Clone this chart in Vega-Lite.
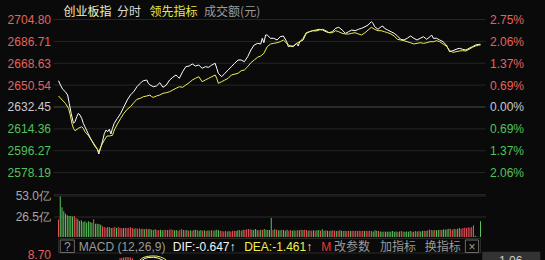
{
"$schema": "https://vega.github.io/schema/vega-lite/v6.json",
"width": 432,
"height": 240.5,
"autosize": {"type": "none"},
"padding": {"left": 53.5, "top": 19.5, "right": 59.5, "bottom": 0},
"background": "#0a0a0a",
"config": {"view": {"stroke": null}, "axis": {"domain": false, "ticks": false, "grid": false, "labelFont": "Liberation Sans", "labelFontSize": 12, "labelOverlap": false, "labelBound": false, "labelFlush": false}},
"datasets": {
"grid": [{"pct": 2.7484}, {"pct": 2.0612}, {"pct": 1.3744}, {"pct": 0.6872}, {"pct": 0}, {"pct": -0.6872}, {"pct": -1.3744}, {"pct": -2.0612}, {"pct": -2.7484}],
"idx": [{"t":0,"p":2654.19},{"t":1.1,"p":2650.63},{"t":2.4,"p":2647.08},{"t":3.9,"p":2645.09},{"t":5.2,"p":2642.36},{"t":6.1,"p":2635.5},{"t":7.2,"p":2627.23},{"t":8.5,"p":2618.96},{"t":9.4,"p":2620.29},{"t":10.4,"p":2624.42},{"t":11.3,"p":2627.23},{"t":12.2,"p":2625.83},{"t":13.2,"p":2623.1},{"t":14.1,"p":2618.96},{"t":15,"p":2616.15},{"t":15.9,"p":2613.42},{"t":16.8,"p":2610.69},{"t":18.7,"p":2605.15},{"t":20.6,"p":2600.19},{"t":22.1,"p":2597.46},{"t":22.9,"p":2593.57},{"t":23.9,"p":2598.28},{"t":25.2,"p":2605.15},{"t":26.1,"p":2610.69},{"t":27.1,"p":2613.42},{"t":27.9,"p":2612.02},{"t":28.9,"p":2614.0},{"t":29.8,"p":2610.12},{"t":30.7,"p":2614.83},{"t":31.7,"p":2618.96},{"t":33.5,"p":2623.1},{"t":35.4,"p":2627.23},{"t":37.2,"p":2632.69},{"t":39.1,"p":2638.23},{"t":40.9,"p":2642.36},{"t":41.8,"p":2643.77},{"t":42.8,"p":2645.09},{"t":44.6,"p":2649.23},{"t":46.5,"p":2652.04},{"t":47.4,"p":2653.37},{"t":48.3,"p":2654.19},{"t":50.2,"p":2654.77},{"t":51.1,"p":2652.04},{"t":52.1,"p":2650.63},{"t":53.9,"p":2649.23},{"t":55.7,"p":2649.81},{"t":57.6,"p":2652.53},{"t":58.5,"p":2650.63},{"t":59.4,"p":2648.73},{"t":61.3,"p":2650.63},{"t":63.2,"p":2654.77},{"t":65,"p":2657.0},{"t":66.8,"p":2658.9},{"t":67.8,"p":2657.5},{"t":68.7,"p":2656.18},{"t":70.6,"p":2661.63},{"t":72.4,"p":2665.77},{"t":74.3,"p":2666.34},{"t":76.1,"p":2668.0},{"t":77.9,"p":2666.34},{"t":79.8,"p":2667.17},{"t":81.7,"p":2664.44},{"t":83.5,"p":2665.77},{"t":85.4,"p":2665.27},{"t":87.2,"p":2667.17},{"t":89.1,"p":2668.58},{"t":90,"p":2664.44},{"t":90.9,"p":2660.31},{"t":92.8,"p":2657.5},{"t":94.6,"p":2660.31},{"t":96.5,"p":2663.04},{"t":98.3,"p":2665.77},{"t":100.2,"p":2668.58},{"t":102.1,"p":2671.31},{"t":103.9,"p":2671.31},{"t":105.7,"p":2669.9},{"t":107.6,"p":2674.03},{"t":109.4,"p":2679.58},{"t":111.3,"p":2683.71},{"t":113.2,"p":2685.11},{"t":115,"p":2684.54},{"t":115.9,"p":2689.25},{"t":116.8,"p":2685.61},{"t":117.8,"p":2691.98},{"t":118.7,"p":2691.98},{"t":120.6,"p":2689.25},{"t":122.4,"p":2689.25},{"t":124.3,"p":2687.84},{"t":126.1,"p":2690.57},{"t":127.9,"p":2691.15},{"t":129.8,"p":2686.44},{"t":130.7,"p":2682.3},{"t":131.7,"p":2682.88},{"t":133.5,"p":2682.3},{"t":135.4,"p":2685.11},{"t":136.3,"p":2682.88},{"t":137.2,"p":2686.44},{"t":139.1,"p":2687.84},{"t":140.9,"p":2693.38},{"t":142.8,"p":2694.71},{"t":144.6,"p":2695.53},{"t":146.5,"p":2696.11},{"t":148.3,"p":2696.69},{"t":150.2,"p":2696.11},{"t":152.1,"p":2694.71},{"t":153.9,"p":2693.88},{"t":155.7,"p":2694.71},{"t":157.6,"p":2697.52},{"t":159.4,"p":2698.35},{"t":161.3,"p":2696.11},{"t":163.2,"p":2693.38},{"t":165,"p":2694.71},{"t":166.8,"p":2696.11},{"t":168.7,"p":2695.53},{"t":170.6,"p":2696.69},{"t":172.4,"p":2697.52},{"t":174.3,"p":2698.84},{"t":176.1,"p":2700.25},{"t":177.9,"p":2702.98},{"t":178.9,"p":2701.65},{"t":179.8,"p":2698.84},{"t":181.7,"p":2696.69},{"t":183.5,"p":2698.84},{"t":184.4,"p":2699.42},{"t":185.4,"p":2697.52},{"t":187.2,"p":2696.11},{"t":189.1,"p":2694.71},{"t":190.9,"p":2693.38},{"t":192.8,"p":2691.15},{"t":194.6,"p":2688.42},{"t":196.5,"p":2687.84},{"t":198.3,"p":2689.25},{"t":200.2,"p":2691.15},{"t":202.1,"p":2689.25},{"t":203.9,"p":2687.84},{"t":205.7,"p":2689.25},{"t":207.6,"p":2690.57},{"t":209.4,"p":2688.42},{"t":211.3,"p":2690.57},{"t":212.2,"p":2691.98},{"t":213.2,"p":2689.25},{"t":215,"p":2689.25},{"t":216.8,"p":2687.84},{"t":218.7,"p":2686.44},{"t":220.6,"p":2683.71},{"t":222.4,"p":2678.17},{"t":224.3,"p":2679.0},{"t":226.1,"p":2680.15},{"t":227.9,"p":2680.98},{"t":229.8,"p":2680.15},{"t":231.7,"p":2679.58},{"t":233.5,"p":2680.98},{"t":235.4,"p":2682.3},{"t":237.2,"p":2683.71},{"t":239.1,"p":2684.29},{"t":240,"p":2684.29}],
"lead": [{"t":0,"p":2641.54},{"t":2.1,"p":2638.23},{"t":3.9,"p":2635.5},{"t":5.7,"p":2631.37},{"t":6.7,"p":2625.83},{"t":7.6,"p":2618.96},{"t":8.5,"p":2614.83},{"t":9.4,"p":2612.85},{"t":11.3,"p":2614.83},{"t":13.2,"p":2616.15},{"t":14.1,"p":2614.83},{"t":15,"p":2612.02},{"t":16.8,"p":2609.29},{"t":18.7,"p":2605.15},{"t":20.6,"p":2601.02},{"t":22.4,"p":2596.89},{"t":22.9,"p":2595.48},{"t":24.3,"p":2600.19},{"t":26.1,"p":2605.15},{"t":27.6,"p":2608.46},{"t":28.9,"p":2608.46},{"t":30.7,"p":2609.04},{"t":31.7,"p":2613.42},{"t":33.5,"p":2618.38},{"t":35.4,"p":2623.1},{"t":37.2,"p":2627.23},{"t":39.1,"p":2630.54},{"t":40.9,"p":2632.69},{"t":42.8,"p":2636.0},{"t":44.6,"p":2638.81},{"t":46.5,"p":2639.64},{"t":48.3,"p":2640.96},{"t":50.2,"p":2641.54},{"t":52.1,"p":2642.36},{"t":52.9,"p":2640.96},{"t":53.9,"p":2640.46},{"t":55.7,"p":2641.54},{"t":57.6,"p":2642.36},{"t":59.4,"p":2643.77},{"t":61.3,"p":2644.27},{"t":63.2,"p":2645.09},{"t":65,"p":2646.5},{"t":66.8,"p":2647.9},{"t":68.7,"p":2649.23},{"t":70.6,"p":2648.73},{"t":72.4,"p":2650.63},{"t":74.3,"p":2652.53},{"t":76.1,"p":2654.77},{"t":77.9,"p":2656.18},{"t":79.8,"p":2657.5},{"t":81.7,"p":2653.36},{"t":83.5,"p":2654.77},{"t":85.4,"p":2656.18},{"t":87.2,"p":2657.5},{"t":89.1,"p":2658.9},{"t":90,"p":2656.18},{"t":90.9,"p":2652.04},{"t":92.8,"p":2653.36},{"t":94.6,"p":2654.77},{"t":96.5,"p":2656.18},{"t":98.3,"p":2658.9},{"t":102.1,"p":2660.31},{"t":103.9,"p":2662.46},{"t":105.7,"p":2663.04},{"t":107.6,"p":2665.77},{"t":109.4,"p":2669.07},{"t":111.3,"p":2671.31},{"t":113.2,"p":2673.54},{"t":115,"p":2674.61},{"t":116.8,"p":2676.85},{"t":118.7,"p":2682.3},{"t":120.6,"p":2684.54},{"t":122.4,"p":2685.11},{"t":124.3,"p":2685.61},{"t":126.1,"p":2686.44},{"t":127.9,"p":2687.84},{"t":129.8,"p":2685.11},{"t":131.7,"p":2682.88},{"t":133.5,"p":2682.88},{"t":135.4,"p":2685.11},{"t":137.2,"p":2686.44},{"t":139.1,"p":2689.25},{"t":140.9,"p":2693.88},{"t":142.8,"p":2694.71},{"t":144.6,"p":2695.53},{"t":146.5,"p":2695.29},{"t":148.3,"p":2696.11},{"t":150.2,"p":2696.69},{"t":152.1,"p":2695.53},{"t":153.9,"p":2693.88},{"t":155.7,"p":2693.88},{"t":157.6,"p":2695.53},{"t":159.4,"p":2694.71},{"t":161.3,"p":2693.38},{"t":163.2,"p":2692.81},{"t":165,"p":2692.81},{"t":166.8,"p":2693.38},{"t":168.7,"p":2693.88},{"t":170.6,"p":2692.81},{"t":172.4,"p":2691.98},{"t":174.3,"p":2693.88},{"t":176.1,"p":2696.11},{"t":177.9,"p":2698.35},{"t":179.8,"p":2696.69},{"t":181.7,"p":2695.53},{"t":183.5,"p":2695.53},{"t":185.4,"p":2694.71},{"t":187.2,"p":2693.88},{"t":189.1,"p":2692.81},{"t":190.9,"p":2691.15},{"t":192.8,"p":2688.42},{"t":194.6,"p":2687.84},{"t":196.5,"p":2687.27},{"t":198.3,"p":2686.44},{"t":200.2,"p":2685.61},{"t":202.1,"p":2684.54},{"t":203.9,"p":2685.11},{"t":205.7,"p":2685.61},{"t":207.6,"p":2685.11},{"t":209.4,"p":2685.61},{"t":211.3,"p":2686.44},{"t":213.2,"p":2686.44},{"t":215,"p":2687.27},{"t":216.8,"p":2686.44},{"t":218.7,"p":2684.54},{"t":220.6,"p":2682.88},{"t":222.4,"p":2679.12},{"t":224.3,"p":2677.67},{"t":226.1,"p":2678.17},{"t":227.9,"p":2678.75},{"t":229.8,"p":2679.0},{"t":231.7,"p":2678.75},{"t":233.5,"p":2680.15},{"t":235.4,"p":2681.81},{"t":237.2,"p":2682.88},{"t":239.1,"p":2683.71},{"t":240,"p":2683.71}],
"vol": [{"t":0,"v":22,"d":"up"},{"t":1,"v":51,"d":"dn"},{"t":2,"v":37.5,"d":"dn"},{"t":3,"v":32.4,"d":"dn"},{"t":4,"v":29.4,"d":"dn"},{"t":5,"v":27.3,"d":"dn"},{"t":6,"v":26.5,"d":"dn"},{"t":7,"v":26.5,"d":"dn"},{"t":8,"v":26,"d":"dn"},{"t":9,"v":26.5,"d":"up"},{"t":10,"v":24,"d":"up"},{"t":11,"v":22.3,"d":"dn"},{"t":12,"v":20.2,"d":"dn"},{"t":13,"v":21,"d":"dn"},{"t":14,"v":19,"d":"dn"},{"t":15,"v":19.8,"d":"dn"},{"t":16,"v":18,"d":"dn"},{"t":17,"v":19.8,"d":"dn"},{"t":18,"v":19,"d":"dn"},{"t":19,"v":18,"d":"dn"},{"t":20,"v":22.3,"d":"up"},{"t":21,"v":16.8,"d":"dn"},{"t":22,"v":16.8,"d":"dn"},{"t":23,"v":16.4,"d":"dn"},{"t":24,"v":15.6,"d":"dn"},{"t":25,"v":13.5,"d":"up"},{"t":26,"v":12.6,"d":"up"},{"t":27,"v":11.8,"d":"up"},{"t":28,"v":12.6,"d":"dn"},{"t":29,"v":12.2,"d":"up"},{"t":30,"v":11.4,"d":"dn"},{"t":31,"v":11.8,"d":"up"},{"t":32,"v":12.6,"d":"up"},{"t":33,"v":11.4,"d":"dn"},{"t":34,"v":12.2,"d":"up"},{"t":35,"v":11.8,"d":"up"},{"t":36,"v":11,"d":"up"},{"t":37,"v":11.4,"d":"dn"},{"t":38,"v":11.8,"d":"up"},{"t":39,"v":11.4,"d":"up"},{"t":40,"v":11.8,"d":"up"},{"t":41,"v":12.2,"d":"up"},{"t":42,"v":11.4,"d":"up"},{"t":43,"v":10.5,"d":"dn"},{"t":44,"v":11.4,"d":"up"},{"t":45,"v":10.5,"d":"up"},{"t":46,"v":11,"d":"up"},{"t":47,"v":10,"d":"dn"},{"t":48,"v":10.5,"d":"up"},{"t":49,"v":9.7,"d":"dn"},{"t":50,"v":10.5,"d":"up"},{"t":51,"v":9.7,"d":"dn"},{"t":52,"v":10,"d":"dn"},{"t":53,"v":9.3,"d":"dn"},{"t":54,"v":8.8,"d":"up"},{"t":55,"v":9.7,"d":"dn"},{"t":56,"v":8.4,"d":"up"},{"t":57,"v":8.8,"d":"up"},{"t":58,"v":9.3,"d":"dn"},{"t":59,"v":8.4,"d":"dn"},{"t":60,"v":8.8,"d":"up"},{"t":61,"v":9.3,"d":"up"},{"t":62,"v":8.8,"d":"up"},{"t":63,"v":9.3,"d":"up"},{"t":64,"v":9.7,"d":"up"},{"t":65,"v":8.8,"d":"up"},{"t":66,"v":8.4,"d":"dn"},{"t":67,"v":8.8,"d":"dn"},{"t":68,"v":8,"d":"up"},{"t":69,"v":9.3,"d":"up"},{"t":70,"v":9.7,"d":"up"},{"t":71,"v":8.8,"d":"dn"},{"t":72,"v":8.4,"d":"up"},{"t":73,"v":8.8,"d":"dn"},{"t":74,"v":8,"d":"up"},{"t":75,"v":8.4,"d":"dn"},{"t":76,"v":8,"d":"up"},{"t":77,"v":8.8,"d":"dn"},{"t":78,"v":9.3,"d":"dn"},{"t":79,"v":8.4,"d":"up"},{"t":80,"v":8,"d":"dn"},{"t":81,"v":8.8,"d":"dn"},{"t":82,"v":8,"d":"up"},{"t":83,"v":8.4,"d":"dn"},{"t":84,"v":7.6,"d":"up"},{"t":85,"v":8.4,"d":"dn"},{"t":86,"v":8,"d":"up"},{"t":87,"v":8.8,"d":"up"},{"t":88,"v":8,"d":"up"},{"t":89,"v":8.4,"d":"dn"},{"t":90,"v":9.3,"d":"dn"},{"t":91,"v":8.4,"d":"dn"},{"t":92,"v":8,"d":"up"},{"t":93,"v":7.6,"d":"up"},{"t":94,"v":7.1,"d":"up"},{"t":95,"v":7.6,"d":"up"},{"t":96,"v":7.1,"d":"up"},{"t":97,"v":7.6,"d":"dn"},{"t":98,"v":7.1,"d":"up"},{"t":99,"v":7.6,"d":"up"},{"t":100,"v":8,"d":"up"},{"t":101,"v":7.6,"d":"dn"},{"t":102,"v":8.4,"d":"dn"},{"t":103,"v":8.8,"d":"up"},{"t":104,"v":8,"d":"up"},{"t":105,"v":9.3,"d":"dn"},{"t":106,"v":8.8,"d":"up"},{"t":107,"v":9.7,"d":"up"},{"t":108,"v":10,"d":"up"},{"t":109,"v":9.7,"d":"up"},{"t":110,"v":9.3,"d":"dn"},{"t":111,"v":8.8,"d":"dn"},{"t":112,"v":10,"d":"dn"},{"t":113,"v":8.8,"d":"dn"},{"t":114,"v":8.4,"d":"up"},{"t":115,"v":9.3,"d":"dn"},{"t":116,"v":8.8,"d":"up"},{"t":117,"v":10,"d":"dn"},{"t":118,"v":9.3,"d":"dn"},{"t":119,"v":8.8,"d":"dn"},{"t":120,"v":8.8,"d":"dn"},{"t":121,"v":24,"d":"dn"},{"t":122,"v":8.8,"d":"up"},{"t":123,"v":9.7,"d":"dn"},{"t":124,"v":9.3,"d":"up"},{"t":125,"v":8.4,"d":"dn"},{"t":126,"v":8.4,"d":"dn"},{"t":127,"v":9.3,"d":"up"},{"t":128,"v":8.8,"d":"dn"},{"t":129,"v":8,"d":"dn"},{"t":130,"v":9.3,"d":"dn"},{"t":131,"v":8,"d":"up"},{"t":132,"v":8.8,"d":"up"},{"t":133,"v":8,"d":"dn"},{"t":134,"v":8.4,"d":"dn"},{"t":135,"v":8,"d":"up"},{"t":136,"v":8.8,"d":"up"},{"t":137,"v":8.4,"d":"dn"},{"t":138,"v":9.3,"d":"up"},{"t":139,"v":8.8,"d":"dn"},{"t":140,"v":9.3,"d":"up"},{"t":141,"v":8.8,"d":"up"},{"t":142,"v":8,"d":"dn"},{"t":143,"v":8.4,"d":"up"},{"t":144,"v":8,"d":"up"},{"t":145,"v":8.4,"d":"dn"},{"t":146,"v":8,"d":"up"},{"t":147,"v":8.4,"d":"dn"},{"t":148,"v":8.8,"d":"dn"},{"t":149,"v":8,"d":"up"},{"t":150,"v":9.7,"d":"dn"},{"t":151,"v":8,"d":"dn"},{"t":152,"v":8.4,"d":"up"},{"t":153,"v":8,"d":"dn"},{"t":154,"v":7.6,"d":"up"},{"t":155,"v":8,"d":"dn"},{"t":156,"v":8.4,"d":"up"},{"t":157,"v":8,"d":"up"},{"t":158,"v":7.6,"d":"dn"},{"t":159,"v":8,"d":"up"},{"t":160,"v":8.4,"d":"dn"},{"t":161,"v":8,"d":"dn"},{"t":162,"v":7.6,"d":"up"},{"t":163,"v":8,"d":"dn"},{"t":164,"v":7.6,"d":"up"},{"t":165,"v":8,"d":"up"},{"t":166,"v":7.6,"d":"dn"},{"t":167,"v":8,"d":"up"},{"t":168,"v":7.6,"d":"up"},{"t":169,"v":8,"d":"up"},{"t":170,"v":7.6,"d":"up"},{"t":171,"v":8,"d":"up"},{"t":172,"v":7.6,"d":"up"},{"t":173,"v":8,"d":"up"},{"t":174,"v":7.6,"d":"dn"},{"t":175,"v":8,"d":"up"},{"t":176,"v":7.6,"d":"up"},{"t":177,"v":8,"d":"up"},{"t":178,"v":7.6,"d":"up"},{"t":179,"v":7.1,"d":"dn"},{"t":180,"v":8.4,"d":"dn"},{"t":181,"v":8,"d":"dn"},{"t":182,"v":7.6,"d":"up"},{"t":183,"v":7.1,"d":"dn"},{"t":184,"v":6.7,"d":"dn"},{"t":185,"v":7.1,"d":"up"},{"t":186,"v":6.7,"d":"dn"},{"t":187,"v":7.1,"d":"dn"},{"t":188,"v":6.7,"d":"dn"},{"t":189,"v":7.1,"d":"dn"},{"t":190,"v":7.6,"d":"dn"},{"t":191,"v":6.7,"d":"dn"},{"t":192,"v":7.1,"d":"dn"},{"t":193,"v":6.7,"d":"up"},{"t":194,"v":7.1,"d":"dn"},{"t":195,"v":7.6,"d":"up"},{"t":196,"v":7.1,"d":"up"},{"t":197,"v":6.7,"d":"dn"},{"t":198,"v":7.1,"d":"dn"},{"t":199,"v":6.7,"d":"dn"},{"t":200,"v":7.6,"d":"dn"},{"t":201,"v":7.1,"d":"up"},{"t":202,"v":6.7,"d":"dn"},{"t":203,"v":7.6,"d":"up"},{"t":204,"v":7.1,"d":"dn"},{"t":205,"v":7.6,"d":"up"},{"t":206,"v":7.1,"d":"dn"},{"t":207,"v":7.6,"d":"dn"},{"t":208,"v":8,"d":"up"},{"t":209,"v":7.6,"d":"dn"},{"t":210,"v":8.4,"d":"up"},{"t":211,"v":9.3,"d":"up"},{"t":212,"v":8.8,"d":"up"},{"t":213,"v":8.4,"d":"dn"},{"t":214,"v":8.8,"d":"up"},{"t":215,"v":8.4,"d":"dn"},{"t":216,"v":8.8,"d":"dn"},{"t":217,"v":9.3,"d":"up"},{"t":218,"v":8.8,"d":"dn"},{"t":219,"v":9.7,"d":"dn"},{"t":220,"v":9.3,"d":"dn"},{"t":221,"v":9.7,"d":"dn"},{"t":222,"v":10.5,"d":"dn"},{"t":223,"v":10,"d":"up"},{"t":224,"v":9.3,"d":"up"},{"t":225,"v":10.5,"d":"dn"},{"t":226,"v":9.7,"d":"up"},{"t":227,"v":10.5,"d":"dn"},{"t":228,"v":11.4,"d":"dn"},{"t":229,"v":10.5,"d":"up"},{"t":230,"v":11.4,"d":"up"},{"t":231,"v":11.8,"d":"up"},{"t":232,"v":11.4,"d":"up"},{"t":233,"v":12.2,"d":"up"},{"t":234,"v":11.8,"d":"up"},{"t":235,"v":12.6,"d":"up"},{"t":236,"v":14.7,"d":"up"},{"t":237,"v":1.5,"d":"dn"},{"t":238,"v":0.3,"d":"dn"},{"t":239,"v":0.3,"d":"dn"},{"t":240,"v":20,"d":"dn"}],
"head": [{"label":"创业板指","t":2.8},{"label":"分时","t":33.3},{"label":"领先指标","t":51.7},{"label":"成交额(元)","t":82.8}],
"macdHead": [{"label":"MACD (12,26,9)","t":11.5},{"label":"DIF:-0.647↑","t":65},{"label":"DEA:-1.461↑","t":105.6},{"label":"M","t":149.4},{"label":"改参数","t":156.7},{"label":"加指标","t":182.8},{"label":"换指标","t":208.3}],
"macdBox": [{"label":"?","t":5,"ta":1,"tb":9},{"label":"×","t":235.2,"ta":231.4,"tb":238.9}],
"macdHist": [{"t":35,"m":7.95},{"t":36,"m":8.05},{"t":37,"m":8.1},{"t":38,"m":8.15},{"t":39,"m":8.2},{"t":40,"m":8.15},{"t":41,"m":8.1},{"t":42,"m":7.95}],
"dea": [{"t":46,"m":7.5},{"t":48,"m":8.05},{"t":50,"m":8.3},{"t":53,"m":8.42},{"t":56,"m":8.38},{"t":58,"m":8.2},{"t":60,"m":7.9},{"t":61.5,"m":7.5}],
"dif": [{"t":47.5,"m":7.5},{"t":49,"m":7.9},{"t":51,"m":8.1},{"t":54,"m":8.15},{"t":56.5,"m":8.0},{"t":58.5,"m":7.7},{"t":59.5,"m":7.5}],
"cur": [{"label":"-1.06","t":256,"ta":241,"tb":274}],
"row": [{"a": 0, "b": 240}]
},
"resolve": {"scale": {"y": "independent", "color": "independent"}},
"layer": [
{
"data": {"name": "grid"},
"mark": {"type": "rule", "strokeWidth": 1},
"encoding": {
"y": {"field": "pct", "type": "quantitative", "title": null, "scale": {"domain": [-4.8058, 2.7484], "nice": false, "zero": false},
"axis": {"orient": "right", "values": [2.7484, 2.0612, 1.3744, 0.6872, 0, -0.6872, -1.3744, -2.0612], "labelExpr": "format(abs(datum.value),'.2f')+'%'", "labelPadding": 4, "labelOverlap": false,
"labelColor": {"condition": [{"test": "datum.value > 0.001", "value": "#e5625f"}, {"test": "datum.value < -0.001", "value": "#4fc35c"}], "value": "#c8c8d0"}}},
"color": {"condition": {"test": "datum.pct == 0", "value": "#4a4a4a"}, "value": "#262626"}
}
},
{
"data": {"name": "idx"},
"mark": {"type": "line", "color": "#ffffff", "strokeWidth": 1},
"encoding": {
"x": {"field": "t", "type": "quantitative", "title": null, "scale": {"domain": [0, 240], "nice": false, "zero": false},
"axis": {"orient": "bottom", "values": [0, 30, 60, 90, 120, 150, 180, 210, 240], "labels": false, "grid": true, "gridColor": "#2a2a2a", "gridDash": {"condition": {"test": "datum.value % 60 == 30", "value": [1, 2]}, "value": []}}},
"y": {"field": "p", "type": "quantitative", "title": null, "scale": {"domain": [2505.94, 2704.8], "nice": false, "zero": false},
"axis": {"orient": "left", "values": [2704.8, 2686.71, 2668.63, 2650.54, 2632.45, 2614.36, 2596.27, 2578.19], "format": ".2f", "labelPadding": 3, "labelOverlap": false,
"labelColor": {"condition": [{"test": "datum.value > 2632.46", "value": "#e5625f"}, {"test": "datum.value < 2632.44", "value": "#4fc35c"}], "value": "#c8c8d0"}}}
}
},
{
"data": {"name": "lead"},
"mark": {"type": "line", "color": "#eeee55", "strokeWidth": 1},
"encoding": {
"x": {"field": "t", "type": "quantitative", "axis": null},
"y": {"field": "p", "type": "quantitative", "axis": null, "scale": {"domain": [2505.94, 2704.8], "nice": false, "zero": false}}
}
},
{
"data": {"name": "head"},
"mark": {"type": "text", "align": "left", "baseline": "middle", "fontSize": 12, "font": "Noto Sans CJK SC"},
"encoding": {
"x": {"field": "t", "type": "quantitative", "axis": null},
"y": {"datum": 2.9918, "type": "quantitative", "axis": null, "scale": {"domain": [-4.8058, 2.7484], "nice": false, "zero": false}},
"text": {"field": "label"},
"color": {"field": "label", "type": "nominal", "legend": null, "scale": {"domain": ["创业板指", "分时", "领先指标", "成交额(元)"], "range": ["#f0f0c0", "#d8d8d8", "#e8e84a", "#9a9a9a"]}}
}
},
{
"data": {"name": "vol"},
"mark": {"type": "bar", "size": 1},
"encoding": {
"x": {"field": "t", "type": "quantitative", "axis": null},
"y": {"field": "v", "type": "quantitative", "title": null, "scale": {"domain": [-29.02, 274.46], "nice": false, "zero": false},
"axis": {"orient": "left", "values": [53, 26.5], "labelExpr": "format(datum.value,'.1f')+'亿'", "labelColor": "#a8a8a8", "labelPadding": 3, "labelOverlap": false, "grid": true, "gridColor": "#2a2a2a"}},
"color": {"field": "d", "type": "nominal", "legend": null, "scale": {"domain": ["up", "dn"], "range": ["#e8555a", "#5cc45c"]}}
}
},
{
"data": {"name": "macdHist"},
"mark": {"type": "bar", "size": 1, "color": "#e8555a"},
"encoding": {
"x": {"field": "t", "type": "quantitative", "axis": null},
"y": {"field": "m", "type": "quantitative", "title": null, "scale": {"domain": [7.6, 55.7], "nice": false, "zero": false},
"axis": {"orient": "left", "values": [8.7], "format": ".2f", "labelColor": "#e5625f", "labelPadding": 3}}
}
},
{
"data": {"name": "dea"},
"mark": {"type": "line", "color": "#eeee55", "strokeWidth": 1},
"encoding": {"x": {"field": "t", "type": "quantitative", "axis": null}, "y": {"field": "m", "type": "quantitative", "axis": null, "scale": {"domain": [7.6, 55.7], "nice": false, "zero": false}}}
},
{
"data": {"name": "dif"},
"mark": {"type": "line", "color": "#ffffff", "strokeWidth": 1},
"encoding": {"x": {"field": "t", "type": "quantitative", "axis": null}, "y": {"field": "m", "type": "quantitative", "axis": null, "scale": {"domain": [7.6, 55.7], "nice": false, "zero": false}}}
},
{
"data": {"name": "row"},
"mark": {"type": "rect", "fill": "#0a0a0a", "stroke": "#2a2a2a", "strokeWidth": 1},
"encoding": {"x": {"field": "a", "type": "quantitative", "axis": null}, "x2": {"field": "b"}, "y": {"datum": 9.0, "type": "quantitative", "axis": null, "scale": {"domain": [7.6, 55.7], "nice": false, "zero": false}}, "y2": {"datum": 11.9}}
},
{
"data": {"name": "macdBox"},
"mark": {"type": "rect", "fill": "#0a0a0a", "stroke": "#6a6a6a", "strokeWidth": 1},
"encoding": {"x": {"field": "ta", "type": "quantitative", "axis": null}, "x2": {"field": "tb"}, "y": {"datum": 9.1, "type": "quantitative", "axis": null, "scale": {"domain": [7.6, 55.7], "nice": false, "zero": false}}, "y2": {"datum": 11.6}}
},
{
"data": {"name": "macdBox"},
"mark": {"type": "text", "align": "center", "baseline": "middle", "fontSize": 12, "font": "Liberation Sans", "color": "#9a9a9a"},
"encoding": {"x": {"field": "t", "type": "quantitative", "axis": null}, "y": {"datum": 10.3, "type": "quantitative", "axis": null, "scale": {"domain": [7.6, 55.7], "nice": false, "zero": false}}, "text": {"field": "label"}}
},
{
"data": {"name": "macdHead"},
"mark": {"type": "text", "align": "left", "baseline": "middle", "fontSize": 12, "font": "Liberation Sans, Noto Sans CJK SC"},
"encoding": {
"x": {"field": "t", "type": "quantitative", "axis": null},
"y": {"datum": 10.2, "type": "quantitative", "axis": null, "scale": {"domain": [7.6, 55.7], "nice": false, "zero": false}},
"text": {"field": "label"},
"color": {"field": "label", "type": "nominal", "legend": null, "scale": {"domain": ["MACD (12,26,9)", "DIF:-0.647↑", "DEA:-1.461↑", "M", "改参数", "加指标", "换指标"], "range": ["#9a9a9a", "#f2f2f2", "#f0f050", "#e03c3c", "#9a9a9a", "#9a9a9a", "#9a9a9a"]}}
}
},
{
"data": {"name": "cur"},
"mark": {"type": "rect", "fill": "#333333"},
"encoding": {"x": {"field": "ta", "type": "quantitative", "axis": null}, "x2": {"field": "tb"}, "y": {"datum": 6.5, "type": "quantitative", "axis": null, "scale": {"domain": [7.6, 55.7], "nice": false, "zero": false}}, "y2": {"datum": 9.26}}
},
{
"data": {"name": "cur"},
"mark": {"type": "text", "align": "center", "baseline": "middle", "fontSize": 12, "font": "Liberation Sans", "color": "#d0d0d0"},
"encoding": {"x": {"field": "t", "type": "quantitative", "axis": null}, "y": {"datum": 7.5, "type": "quantitative", "axis": null, "scale": {"domain": [7.6, 55.7], "nice": false, "zero": false}}, "text": {"field": "label"}}
}
]
}
